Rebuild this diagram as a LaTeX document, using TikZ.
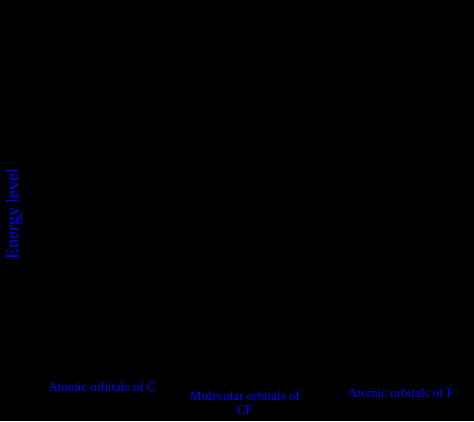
\documentclass[tikz,border=0pt]{standalone}
\usepackage{fontspec}
\setmainfont{Liberation Serif}
\begin{document}
\begin{tikzpicture}[x=1pt,y=-1pt,
  lbl/.style={text=blue, font=\fontsize{13}{14}\selectfont, inner sep=0pt, align=center},
  axislbl/.style={text=blue, font=\fontsize{18}{20}\selectfont, inner sep=0pt, rotate=90}]
  \fill[black] (0,0) rectangle (474,421);
  \useasboundingbox (0,0) rectangle (474,421);
  \node[axislbl] (energy) at (14,214) {Energy level};
  \node[lbl] (aoC) at (102,387) {Atomic orbitals of C};
  \node[lbl] (moCF) at (245,403) {Molecular orbitals of\\CF};
  \node[lbl] (aoF) at (401,393) {Atomic orbitals of F};
\end{tikzpicture}
\end{document}
